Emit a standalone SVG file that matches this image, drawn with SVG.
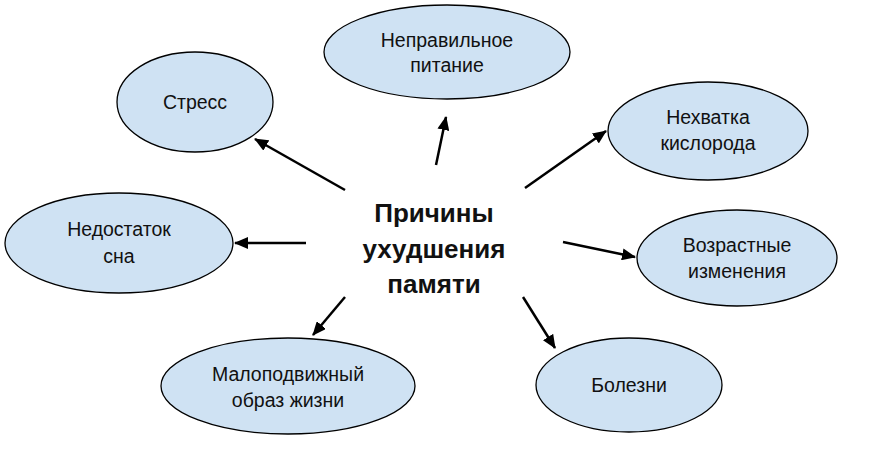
<svg xmlns="http://www.w3.org/2000/svg" width="875" height="460" viewBox="0 0 875 460">
<style>
ellipse{fill:#cfe2f3;stroke:#000;stroke-width:1.3}
text{font-family:"Liberation Sans",Arial,sans-serif;font-size:19.5px;fill:#111;text-anchor:middle}
.c{font-size:26px;font-weight:bold}
line{stroke:#000;stroke-width:2.5;marker-end:url(#a)}
</style>
<defs><marker id="a" markerWidth="14" markerHeight="12" refX="13" refY="6" orient="auto" markerUnits="userSpaceOnUse" viewBox="0 0 14 12"><path d="M0,0L14,6L0,12z" fill="#000"/></marker></defs>
<rect width="875" height="460" fill="#fff"/>
<g id="center"><text class="c" x="434" y="222">Причины</text><text class="c" x="434" y="258">ухудшения</text><text class="c" x="434" y="293">памяти</text></g>
<g id="stress"><ellipse cx="195" cy="102" rx="78" ry="50"/><text x="195" y="109">Стресс</text></g>
<g id="nutrition"><ellipse cx="447" cy="52" rx="123" ry="47"/><text x="447" y="47">Неправильное</text><text x="447" y="72">питание</text></g>
<g id="oxygen"><ellipse cx="708" cy="131" rx="100" ry="49"/><text x="708" y="124">Нехватка</text><text x="708" y="150">кислорода</text></g>
<g id="sleep"><ellipse cx="119" cy="243" rx="114" ry="50"/><text x="119" y="236">Недостаток</text><text x="119" y="263">сна</text></g>
<g id="age"><ellipse cx="737" cy="258" rx="100" ry="48"/><text x="737" y="252">Возрастные</text><text x="737" y="278">изменения</text></g>
<g id="sedentary"><ellipse cx="288" cy="386" rx="127" ry="48"/><text x="288" y="381">Малоподвижный</text><text x="288" y="407">образ жизни</text></g>
<g id="disease"><ellipse cx="629" cy="385" rx="93" ry="47"/><text x="629" y="392">Болезни</text></g>
<g id="connectors">
<line x1="345" y1="190" x2="255" y2="139"/>
<line x1="436" y1="165" x2="446" y2="117"/>
<line x1="525" y1="188" x2="606" y2="131"/>
<line x1="306" y1="243" x2="235" y2="243"/>
<line x1="563" y1="242" x2="635" y2="257"/>
<line x1="345" y1="297" x2="313" y2="335"/>
<line x1="523" y1="297" x2="555" y2="348"/>
</g>
</svg>
